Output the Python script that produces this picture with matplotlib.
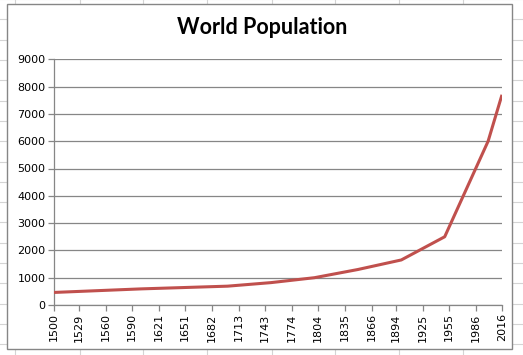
import matplotlib
matplotlib.use('Agg')
import matplotlib.pyplot as plt
from matplotlib.lines import Line2D
from matplotlib.patches import Rectangle

# world population (millions)
years = [1500, 1600, 1700, 1750, 1800, 1850, 1900, 1950, 2000, 2016]
population = [460, 590, 690, 820, 1000, 1300, 1650, 2500, 6000, 7700]

tick_years = [1500, 1529, 1560, 1590, 1621, 1651, 1682, 1713, 1743,
              1774, 1804, 1835, 1866, 1894, 1925, 1955, 1986, 2016]
y_ticks = [0, 1000, 2000, 3000, 4000, 5000, 6000, 7000, 8000, 9000]

W, H = 523, 355
fig = plt.figure(figsize=(W / 100, H / 100), dpi=100)
fig.patch.set_facecolor('white')

# spreadsheet cell lines behind the chart
cell_col = '#d4d4d4'
for k in range(-3, 15):
    y = 60 + 20.3 * k
    fig.add_artist(Line2D([0, 1], [1 - y / H] * 2, color=cell_col, lw=0.8,
                          transform=fig.transFigure, zorder=0))
for x in [15, 80, 143, 207, 272, 335, 399, 463]:
    fig.add_artist(Line2D([x / W] * 2, [0, 1], color=cell_col, lw=0.8,
                          transform=fig.transFigure, zorder=0))

# chart area box
x0, y0, x1, y1 = 7, 3.5, 512, 349
fig.add_artist(Rectangle((x0 / W, 1 - y1 / H), (x1 - x0) / W, (y1 - y0) / H,
                         transform=fig.transFigure, facecolor='white',
                         edgecolor='#868686', lw=1, zorder=1))

left, right, top, bottom = 54, 502, 59.3, 305
ax = fig.add_axes([left / W, 1 - bottom / H, (right - left) / W, (bottom - top) / H])
ax.set_zorder(2)
ax.patch.set_alpha(0)

ax.plot(years, population, color='#c0504d', lw=2.2, solid_capstyle='butt', zorder=3)

ax.set_xlim(1500, 2016)
ax.set_ylim(0, 9000)
ax.set_xticks(tick_years)
ax.set_xticklabels([str(t) for t in tick_years], rotation=90, fontsize=8)
ax.set_yticks(y_ticks)
ax.set_yticklabels([str(t) for t in y_ticks], fontsize=8)

ax.grid(axis='y', color='#868686', lw=0.9)
ax.set_axisbelow(True)
for s in ['top', 'right']:
    ax.spines[s].set_visible(False)
for s in ['left', 'bottom']:
    ax.spines[s].set_color('#868686')
    ax.spines[s].set_linewidth(0.9)
ax.tick_params(axis='both', color='#868686', length=4, width=0.9, pad=2, labelcolor='black')

fig.text(262 / W, 1 - 28 / H, 'World Population', ha='center', va='center',
         fontsize=15.5, fontweight='bold', family=['Lato', 'DejaVu Sans'], zorder=3)

fig.savefig('out.png', dpi=100)
